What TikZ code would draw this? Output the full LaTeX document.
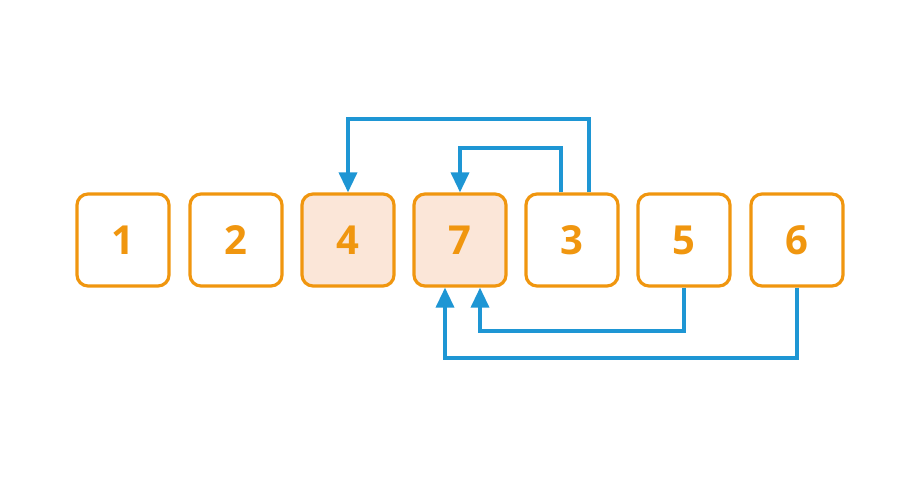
\documentclass[tikz,border=0pt]{standalone}
\usepackage{fontspec}
\setmainfont{Open Sans}
\usetikzlibrary{arrows.meta}
\definecolor{org}{HTML}{F0960F}
\definecolor{lfill}{HTML}{FBE6D8}
\definecolor{blu}{HTML}{1E96D4}
\begin{document}
\begin{tikzpicture}[x=1pt,y=-1pt,
  cell/.style={draw=org,line width=3.2pt,rounded corners=11pt,minimum width=92pt,minimum height=92pt,fill=white,text=org,font=\bfseries\fontsize{40}{44}\selectfont},
  hl/.style={fill=lfill},
  link/.style={draw=blu,line width=3.6pt,-{Triangle[width=18pt,length=20pt]}}]
\useasboundingbox (0,0) rectangle (910,478);
\node[cell] (n1) at (123,240) {1};
\node[cell] (n2) at (236,240) {2};
\node[cell,hl] (n4) at (348,240) {4};
\node[cell,hl] (n7) at (460,240) {7};
\node[cell] (n3) at (572,240) {3};
\node[cell] (n5) at (684,240) {5};
\node[cell] (n6) at (797,240) {6};
\draw[link] ([xshift=-11pt]n3.north) |- (460,148) -- (n7.north);
\draw[link] ([xshift=17pt]n3.north) |- (348,119) -- (n4.north);
\draw[link] (n5.south) |- (480,331) -- ([xshift=20pt]n7.south);
\draw[link] (n6.south) |- (445,358) -- ([xshift=-15pt]n7.south);
\end{tikzpicture}
\end{document}
